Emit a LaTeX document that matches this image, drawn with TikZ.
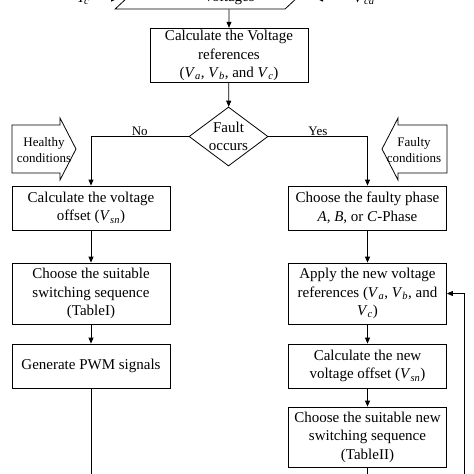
\documentclass[tikz,border=0pt]{standalone}
\usepackage{fontspec}
\setmainfont{Liberation Serif}
\usetikzlibrary{shapes.geometric,arrows.meta}
\newcommand{\vsub}[2]{\textit{#1}\textsubscript{\textit{#2}}}

\begin{document}
\begin{tikzpicture}[x=1pt,y=-1pt,line width=0.8pt,
		>={Triangle[length=6pt,width=5pt]},
		box/.style={draw,rectangle,align=center,minimum width=158pt,inner sep=2pt,font=\fontsize{15}{18.5}\selectfont},
		decision/.style={draw,diamond,aspect=1.34,inner sep=0pt,minimum width=79pt,minimum height=59pt,align=center,font=\fontsize{15}{18.5}\selectfont},
		inout/.style={draw,trapezium,trapezium left angle=61,trapezium right angle=119,trapezium stretches=true,minimum width=228pt,minimum height=54pt,text height=43pt,text depth=5pt,inner ysep=3pt,font=\fontsize{15}{18.5}\selectfont},
		sig/.style={inner sep=1pt,font=\fontsize{15}{18.5}\selectfont},
		note/.style={align=center,inner sep=0pt,font=\fontsize{13}{16}\selectfont},
		branch/.style={above,inner sep=0.5pt,font=\fontsize{13}{16}\selectfont}]
		\useasboundingbox (0,0) rectangle (474,474);
		\clip (0,0) rectangle (474,474);
		\node[inout] (meas) at (229,-18) {Voltages};
		\node[sig] (ic) at (84,-1) {\vsub{I}{c}};
		\node[sig] (vca) at (364,-1) {\vsub{V}{ca}};
		\coordinate (icin) at (117,-1);
		\coordinate (vcain) at (317,-1);
		\node[box,minimum height=53pt] (vref) at (229,55.5) {Calculate the Voltage\\references\\(\vsub{V}{a}, \vsub{V}{b}, and \vsub{V}{c})};
		\node[decision] (fault) at (228.5,136.5) {Fault\\occurs};
		\node[box,minimum height=44pt] (offset) at (91,208) {Calculate the voltage\\offset (\vsub{V}{sn})};
		\node[box,minimum height=44pt] (phase) at (367.5,208) {Choose the faulty phase\\\textit{A}, \textit{B}, or \textit{C}-Phase};
		\node[box,minimum height=61pt] (seq) at (91,293.5) {Choose the suitable\\switching sequence\\(TableI)};
		\node[box,minimum height=61pt] (apply) at (367.5,293.5) {Apply the new voltage\\references (\vsub{V}{a}, \vsub{V}{b}, and\\\vsub{V}{c})};
		\node[box,minimum height=44pt] (pwm) at (91,366) {Generate PWM signals};
		\node[box,minimum height=44pt] (newoff) at (367.5,366) {Calculate the new\\voltage offset (\vsub{V}{sn})};
		\node[box,minimum height=60pt] (newseq) at (367.5,437) {Choose the suitable new\\switching sequence\\(TableII)};
		\coordinate (pwmend) at (91,490);
		\coordinate (loopcorner) at (464,490);
		\draw (12,125) -- (60,125) -- (60,118) -- (76,149) -- (60,180) -- (60,173) -- (12,173) -- cycle;
		\node[note] (healthy) at (44,150) {Healthy\\conditions};
		\draw (447,125) -- (398,125) -- (398,118) -- (382,149) -- (398,180) -- (398,173) -- (447,173) -- cycle;
		\node[note] (faulty) at (414,150) {Faulty\\conditions};
		\draw[->] (ic.east) -- (icin);
		\draw[->] (vca.west) -- (vcain);
		\draw[->] (meas) -- (vref);
		\draw[->] (vref) -- (fault);
		\draw[->] (fault.west) -| node[branch,pos=0.25] (no) {No} (offset.north);
		\draw[->] (fault.east) -| node[branch,pos=0.25] (yes) {Yes} (phase.north);
		\draw[->] (offset) -- (seq);
		\draw[->] (seq) -- (pwm);
		\draw (pwm) -- (pwmend);
		\draw[->] (phase) -- (apply);
		\draw[->] (apply) -- (newoff);
		\draw[->] (newoff) -- (newseq);
		\draw[->] (newseq.south) |- (loopcorner) |- (apply.east);
	\end{tikzpicture}
\end{document}
